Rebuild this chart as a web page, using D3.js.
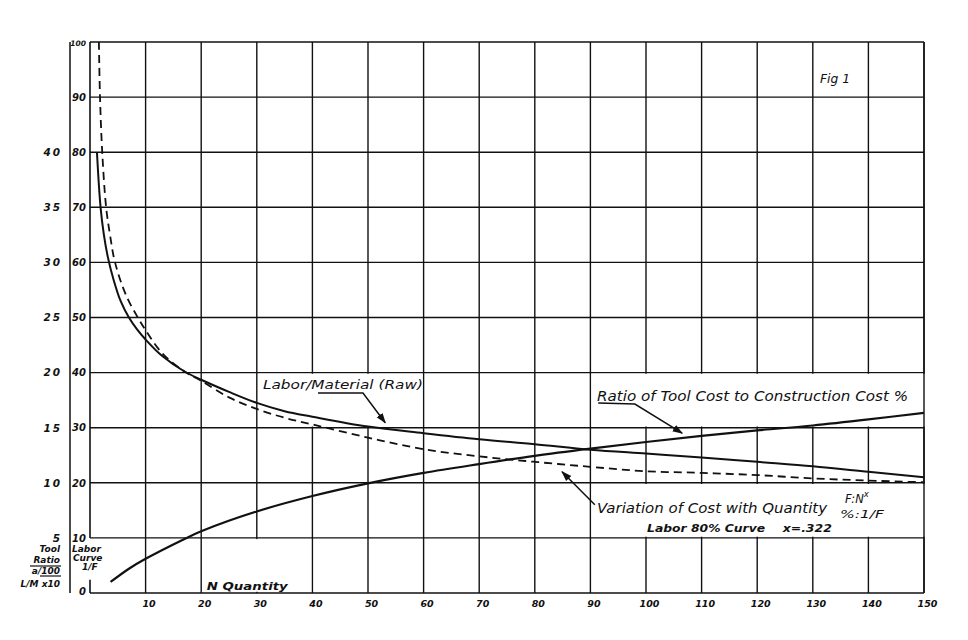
<!DOCTYPE html>
<html>
<head>
<meta charset="utf-8">
<script src="https://cdn.jsdelivr.net/npm/d3@7"></script>
<style>
  html, body { margin: 0; padding: 0; background: #fff; }
  svg { display: block; }
  text { font-family: "DejaVu Sans", sans-serif; font-style: italic; fill: #111; }
</style>
</head>
<body>
<svg id="chart" width="968" height="640"></svg>
<script>
// ---------------- DATA ----------------
const xTicks = [10, 20, 30, 40, 50, 60, 70, 80, 90, 100, 110, 120, 130, 140, 150];
const laborTicks = [0, 10, 20, 30, 40, 50, 60, 70, 80, 90, 100];
const toolTicks = [5, 10, 15, 20, 25, 30, 35, 40];

// Labor/Material (Raw) - solid, on the Labor Curve 1/F scale
const laborN      = [1.25, 1.9, 2.5, 3.2, 4.2, 5.5, 7.0, 8.5, 10, 13, 17, 20, 25, 30, 35, 40, 50, 60, 70, 80, 90, 100, 110, 120, 130, 140, 150];
const laborValues = [80, 70, 65, 61, 57, 53, 50, 47.8, 46, 43, 40.2, 38.7, 36.5, 34.5, 33, 32, 30.2, 29, 27.9, 27, 26, 25.3, 24.6, 23.8, 23, 22, 21];

// Variation of Cost with Quantity (80% curve) - dashed, Labor Curve 1/F scale
const costN      = [1.6, 1.8, 2.2, 2.9, 3.6, 4.5, 6.5, 8.6, 10, 13, 17, 20, 25, 30, 35, 40, 50, 60, 70, 80, 90, 100, 110, 120, 130, 140, 150];
const costValues = [100, 90, 80, 70, 65, 60, 54, 50, 47.7, 43.5, 40.2, 38.5, 35.5, 33.4, 31.8, 30.6, 28.2, 26.1, 24.8, 23.8, 22.9, 22.1, 21.8, 21.4, 20.8, 20.4, 20.1];

// Ratio of Tool Cost to Construction Cost % - solid, on Tool Ratio scale
const ratioN      = [3.7, 7, 10, 17, 20, 30, 40, 50, 60, 70, 80, 90, 100, 110, 120, 130, 140, 150];
const ratioValues = [1.0, 2.2, 3.1, 4.9, 5.6, 7.4, 8.8, 9.95, 10.9, 11.7, 12.45, 13.1, 13.7, 14.25, 14.75, 15.2, 15.75, 16.35];

// ---------------- LAYOUT ----------------
const svg = d3.select("#chart");
const X0 = 90, X1 = 924, Y0 = 593, Y1 = 42;
const x = d3.scaleLinear().domain([0, 150]).range([X0, X1]);
const y = d3.scaleLinear().domain([0, 100]).range([Y0, Y1]);
const yTool = d3.scaleLinear().domain([0, 50]).range([Y0, Y1]);
const ink = "#111";

// ---- grid ----
const grid = svg.append("g").attr("stroke", ink).attr("stroke-width", 1.4);
grid.selectAll("line.v").data(xTicks).join("line")
  .attr("x1", d => x(d)).attr("x2", d => x(d))
  .attr("y1", y(100)).attr("y2", y(0));
grid.selectAll("line.h").data(laborTicks.filter(d => d > 0)).join("line")
  .attr("x1", x(0)).attr("x2", x(150))
  .attr("y1", d => y(d)).attr("y2", d => y(d));
grid.append("line").attr("x1", x(0)).attr("x2", x(150)).attr("y1", y(0)).attr("y2", y(0)).attr("stroke-width", 1.6);

// blank label panels (gridlines interrupted where the lettering sits)
const panels = [
  {n0: 30, n1: 60, v0: 30, v1: 40},
  {n0: 90, n1: 150, v0: 30, v1: 40},
  {n0: 90, n1: 150, v0: 10, v1: 20},
  {n0: 20, n1: 40, v0: 0, v1: 10}
];
svg.append("g").selectAll("rect").data(panels).join("rect")
  .attr("x", d => x(d.n0) + 1.2).attr("width", d => x(d.n1) - x(d.n0) - (d.n1 === 150 ? 0.2 : 2.4))
  .attr("y", d => y(d.v1) + 1.2).attr("height", d => y(d.v0) - y(d.v1) - 2.4)
  .attr("fill", "#fff");
svg.append("line").attr("x1", x(150)).attr("x2", x(150)).attr("y1", y(100)).attr("y2", y(0))
  .attr("stroke", ink).attr("stroke-width", 1.4);

// ---- axes lines ----
svg.append("line").attr("x1", x(0)).attr("x2", x(0)).attr("y1", y(100)).attr("y2", y(10))
  .attr("stroke", ink).attr("stroke-width", 1.6);
svg.append("line").attr("x1", x(0)).attr("x2", x(0)).attr("y1", y(2.4)).attr("y2", y(0))
  .attr("stroke", ink).attr("stroke-width", 1.6);
svg.append("line").attr("x1", 70).attr("x2", 70).attr("y1", y(100)).attr("y2", y(0))
  .attr("stroke", ink).attr("stroke-width", 1.5);

// ---- tick labels via d3 axes ----
const xAxis = svg.append("g").attr("transform", `translate(3,${Y0})`)
  .call(d3.axisBottom(x).tickValues(xTicks).tickSize(0).tickPadding(7));
xAxis.select(".domain").remove();
xAxis.selectAll("text").style("font-size", "9.5px").style("font-weight", "bold")
  .style("font-family", "DejaVu Sans").style("font-style", "italic").attr("fill", ink);

const lAxis = svg.append("g").attr("transform", `translate(${X0 - 2},0)`)
  .call(d3.axisLeft(y).tickValues(laborTicks).tickSize(0).tickPadding(2));
lAxis.select(".domain").remove();
lAxis.selectAll("text").style("font-size", d => d === 100 ? "7.5px" : "10px").style("font-weight", "bold")
  .style("font-family", "DejaVu Sans").style("font-style", "italic").attr("fill", ink)
  .attr("dy", d => d === 100 ? "0.45em" : (d === 0 ? "0.1em" : "0.32em"));

const tAxis = svg.append("g").attr("transform", `translate(62,0)`)
  .call(d3.axisLeft(yTool).tickValues(toolTicks).tickSize(0).tickPadding(0));
tAxis.select(".domain").remove();
tAxis.selectAll("text").style("font-size", "10.5px").style("font-weight", "bold")
  .style("letter-spacing", "2px")
  .style("font-family", "DejaVu Sans").style("font-style", "italic").attr("fill", ink);

// ---- curves ----
const line = d3.line().curve(d3.curveCatmullRom.alpha(0.5));
svg.append("path")
  .attr("d", line(laborN.map((n, i) => [x(n), y(laborValues[i])])))
  .attr("fill", "none").attr("stroke", ink).attr("stroke-width", 2);
svg.append("path")
  .attr("d", line(costN.map((n, i) => [x(n), y(costValues[i])])))
  .attr("fill", "none").attr("stroke", ink).attr("stroke-width", 1.8).attr("stroke-dasharray", "8,5");
svg.append("path")
  .attr("d", line(ratioN.map((n, i) => [x(n), yTool(ratioValues[i])])))
  .attr("fill", "none").attr("stroke", ink).attr("stroke-width", 2.2);

// ---- arrows ----
svg.append("defs").append("marker")
  .attr("id", "ah").attr("viewBox", "0 0 10 10").attr("refX", 9).attr("refY", 5)
  .attr("markerWidth", 7).attr("markerHeight", 7).attr("orient", "auto")
  .append("path").attr("d", "M0,1.5 L10,5 L0,8.5 Z").attr("fill", ink);
const arrows = [
  [[41, 36.3], [49.1, 36.3], [53.1, 30.9]],
  [[91.4, 34.5], [98, 34.3], [106.5, 29.0]],
  [[90.8, 16.0], [84.9, 22.0]]
];
svg.append("g").selectAll("path").data(arrows).join("path")
  .attr("d", d => d3.line()(d.map(p => [x(p[0]), y(p[1])])))
  .attr("fill", "none").attr("stroke", ink).attr("stroke-width", 1.5)
  .attr("marker-end", "url(#ah)");

// ---- lettering ----
function label(txt, n, v, size, width, opts = {}) {
  const t = svg.append("text").attr("x", x(n)).attr("y", y(v))
    .style("font-size", size + "px").text(txt);
  if (width) t.attr("textLength", width).attr("lengthAdjust", "spacingAndGlyphs");
  if (opts.bold) t.style("font-weight", "bold");
  if (opts.anchor) t.attr("text-anchor", opts.anchor);
  return t;
}
label("Labor/Material (Raw)", 31.1, 37.1, 13, 160);
label("Ratio of Tool Cost to Construction Cost %", 91.2, 34.8, 14.5, 311);
label("Variation of Cost with Quantity", 91.2, 14.5, 14.5, 230);
label("Labor 80% Curve", 100.2, 11.1, 10.5, 118, {bold: true});
label("x=.322", 124.6, 11.1, 10.5, 49, {bold: true});
label("Fig 1", 131.3, 92.6, 12, 30);
label("N Quantity", 21, 0.6, 11, 81, {bold: true});

// formula  F:N^x  over  %:1/F
const f1 = svg.append("text").attr("x", x(135.8)).attr("y", y(16.3)).style("font-size", "11.5px");
f1.append("tspan").text("F:N");
f1.append("tspan").attr("dy", "-6").style("font-size", "8.5px").text("x");
label("%:1/F", 134.9, 13.7, 11, 44);

// left legend texts
[["Tool", 551.7], ["Ratio", 563], ["a/100", 573.5], ["L/M x10", 586.5]].forEach(([t, yy]) => {
  svg.append("text").attr("x", 60).attr("y", yy).attr("text-anchor", "end")
    .style("font-size", "9px").style("font-weight", "bold").text(t);
});
svg.append("line").attr("x1", 30).attr("x2", 61).attr("y1", 566).attr("y2", 566).attr("stroke", ink).attr("stroke-width", 1.2);
svg.append("line").attr("x1", 40).attr("x2", 61).attr("y1", 576).attr("y2", 576).attr("stroke", ink).attr("stroke-width", 1.2);
[["Labor", 72, 551.7], ["Curve", 73, 560.7], ["1/F", 82, 569.5]].forEach(([t, xx, yy]) => {
  svg.append("text").attr("x", xx).attr("y", yy)
    .style("font-size", "9px").style("font-weight", "bold").text(t);
});
</script>
</body>
</html>
